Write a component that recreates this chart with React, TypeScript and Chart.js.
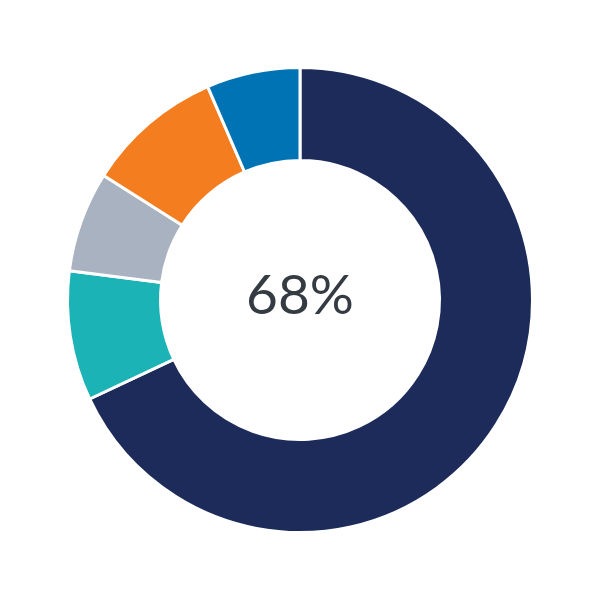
import React, { useEffect, useRef } from "react";
import { Chart, registerables } from "chart.js";

Chart.register(...registerables);

const categories = ["Segment A", "Segment B", "Segment C", "Segment D", "Segment E"];
const values = [68, 9, 7, 9.5, 6.5];
const colors = ["#1c2b5a", "#1bb3b5", "#a8b2c1", "#f47d20", "#0073b5"];
const centerLabel = "68%";

export default function App() {
  const ref = useRef<HTMLCanvasElement | null>(null);
  useEffect(() => {
    if (!ref.current) return;
    const centerText = {
      id: "centerText",
      afterDraw(chart: any) {
        const { ctx, chartArea } = chart;
        const cx = (chartArea.left + chartArea.right) / 2;
        const cy = (chartArea.top + chartArea.bottom) / 2;
        ctx.save();
        ctx.font = "400 55px Lato";
        ctx.fillStyle = "#353b42";
        ctx.textAlign = "center";
        ctx.textBaseline = "middle";
        ctx.fillText(centerLabel, cx, cy - 4);
        ctx.restore();
      },
    };
    const chart = new Chart(ref.current, {
      type: "doughnut",
      data: {
        labels: categories,
        datasets: [
          {
            data: values,
            backgroundColor: colors,
            borderColor: "#ffffff",
            borderWidth: 3,
          },
        ],
      },
      options: {
        responsive: false,
        animation: false,
        cutout: "60%",
        layout: { padding: 66 },
        plugins: { legend: { display: false }, tooltip: { enabled: false } },
      },
      plugins: [centerText],
    });
    return () => chart.destroy();
  }, []);
  return (
    <div style={{ position: "absolute", left: 0, top: 0, width: 600, height: 600, background: "#fff" }}>
      <canvas ref={ref} width={600} height={600} style={{ width: 600, height: 600 }} />
    </div>
  );
}
